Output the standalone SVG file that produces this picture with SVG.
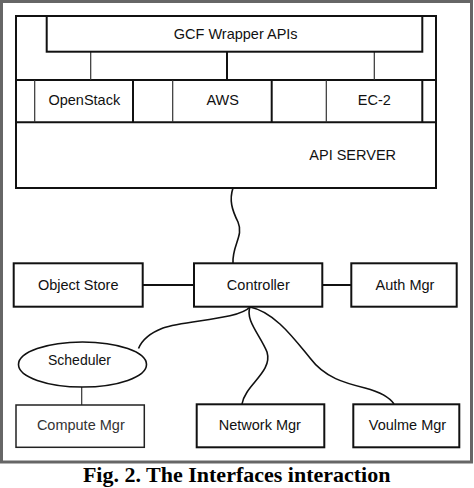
<svg xmlns="http://www.w3.org/2000/svg" width="474" height="488" viewBox="0 0 474 488">
<style>
.box{fill:#fff;stroke:#111;stroke-width:2}
.thin{stroke:#333;stroke-width:1.2}
.ln{stroke:#111;stroke-width:2;fill:none}
.cv{stroke:#111;stroke-width:1.6;fill:none}
.t{font-family:"Liberation Sans",Arial,sans-serif;font-size:14.5px;fill:#111;text-anchor:middle}
.cap{font-family:"Liberation Serif","Times New Roman",serif;font-size:22px;font-weight:bold;fill:#000;text-anchor:middle}
</style>
<rect x="0" y="0" width="474" height="488" fill="#fff"/>
<rect id="frame" x="1.5" y="1.5" width="470" height="460.5" fill="#fff" stroke="#666" stroke-width="3"/>
<g id="api-stack">
<rect class="box" x="16" y="16" width="420" height="172"/>
<line class="ln" x1="16" y1="80" x2="436" y2="80"/>
<line class="ln" x1="16" y1="122.3" x2="436" y2="122.3"/>
<line class="thin" x1="90.7" y1="51.7" x2="90.7" y2="80"/>
<line class="ln" x1="227" y1="51.7" x2="227" y2="80"/>
<line class="thin" x1="374.3" y1="51.7" x2="374.3" y2="80"/>
<line class="thin" x1="34.7" y1="80" x2="34.7" y2="122.3"/>
<line class="ln" x1="133" y1="80" x2="133" y2="122.3"/>
<line class="thin" x1="172.7" y1="80" x2="172.7" y2="122.3"/>
<line class="ln" x1="271.7" y1="80" x2="271.7" y2="122.3"/>
<line class="thin" x1="326.3" y1="80" x2="326.3" y2="122.3"/>
<line class="ln" x1="422.3" y1="80" x2="422.3" y2="122.3"/>
<text class="t" x="84.3" y="105">OpenStack</text>
<text class="t" x="222.7" y="105">AWS</text>
<text class="t" x="374.3" y="105">EC-2</text>
<text class="t" x="352.7" y="160">API SERVER</text>
</g>
<g id="gcf">
<rect class="box" x="46.7" y="16" width="375.6" height="35.7"/>
<text class="t" x="235.7" y="39.3">GCF Wrapper APIs</text>
</g>
<g id="connectors">
<path class="cv" d="M233,188 C229,200 232,210 238,222 C244,236 232,245 233,263"/>
<line class="ln" x1="142.7" y1="285" x2="194" y2="285"/>
<line class="ln" x1="322.3" y1="285" x2="351.3" y2="285"/>
<path class="cv" d="M250,307 C238,320 185,320 163,328 C150,333 142,340 138.5,348.5"/>
<path class="cv" d="M250,307 C245,320 260,335 267,352 C273,372 245,385 242,404"/>
<path class="cv" d="M250,307 C275,312 295,340 310,358 C325,378 345,383 365,388 C380,392 390,398 394,404"/>
<line class="thin" x1="81.7" y1="387" x2="81.7" y2="405"/>
</g>
<g id="object-store">
<rect class="box" x="13.7" y="263.3" width="129" height="43.4"/>
<text class="t" x="78.2" y="290">Object Store</text>
</g>
<g id="controller">
<rect class="box" x="194" y="263.3" width="128.3" height="43.4"/>
<text class="t" x="258.3" y="290">Controller</text>
</g>
<g id="auth-mgr">
<rect class="box" x="351.3" y="263.3" width="105.4" height="43.4"/>
<text class="t" x="405" y="290">Auth Mgr</text>
</g>
<g id="scheduler">
<ellipse cx="82.5" cy="364.5" rx="64" ry="22.5" fill="#fff" stroke="#111" stroke-width="1.6"/>
<text class="t" x="79.5" y="364.5" style="font-size:14px">Scheduler</text>
</g>
<g id="compute-mgr">
<rect x="16" y="405" width="128.3" height="42.3" fill="#fff" stroke="#222" stroke-width="1.5"/>
<text class="t" x="80.8" y="430" style="fill:#333">Compute Mgr</text>
</g>
<g id="network-mgr">
<rect class="box" x="196.7" y="404.3" width="127.6" height="43"/>
<text class="t" x="259.8" y="430">Network Mgr</text>
</g>
<g id="volume-mgr">
<rect class="box" x="353.3" y="404.3" width="106" height="43"/>
<text class="t" x="407.5" y="430">Voulme Mgr</text>
</g>
<text class="cap" x="236.7" y="482">Fig. 2. The Interfaces interaction</text>
</svg>
